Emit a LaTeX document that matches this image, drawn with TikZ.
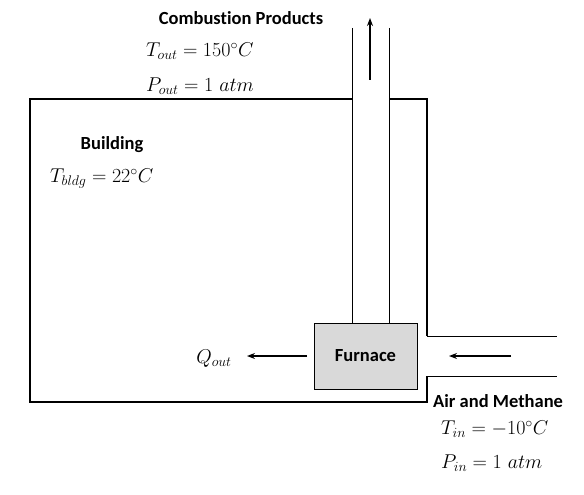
\RequirePackage{fix-cm}
\documentclass[tikz,border=0pt]{standalone}
\usepackage{fontspec}
\setsansfont{Carlito}[Ligatures=NoCommon]
\usetikzlibrary{arrows.meta}
\begin{document}
\begin{tikzpicture}[x=1pt,y=-1pt,
  wall/.style={line width=2.8pt},
  pipe/.style={line width=1pt},
  arr/.style={line width=1.3pt,-{Stealth[length=8pt,width=6pt]}},
  lbl/.style={font=\sffamily\bfseries\fontsize{18.5}{21}\selectfont, inner sep=0},
  eq/.style={font=\fontsize{20}{24}\selectfont, inner sep=0, anchor=west},
  furnacebox/.style={draw, line width=1pt, fill=black!15, minimum width=103pt, minimum height=66pt, inner sep=0, font=\sffamily\bfseries\fontsize{18.5}{21}\selectfont}]
\useasboundingbox (0,0) rectangle (584,495);
% building walls
\draw[wall] (352,99) -- (30,99) -- (30,402) -- (427,402) -- (427,376);
\draw[wall] (427,336) -- (427,99) -- (389,99);
% furnace
\node[furnacebox] (furnace) at (365.5,356) {Furnace};
% chimney
\coordinate (chL) at (352,28);
\coordinate (chR) at (389,28);
\draw[pipe] (chL) -- (chL |- furnace.north);
\draw[pipe] (chR) -- (chR |- furnace.north);
% intake duct
\coordinate (dT) at (557,336);
\coordinate (dB) at (557,376);
\draw[pipe] (427,336) -- (dT);
\draw[pipe] (427,376) -- (dB);
% arrows
\coordinate (upA) at (370,80);
\coordinate (upB) at (370,18);
\draw[arr] (upA) -- (upB);
\coordinate (inA) at (511,356);
\coordinate (inB) at (449,356);
\draw[arr] (inA) -- (inB);
\node[eq, anchor=center] (q) at (214,359) {$Q_{out}$};
\coordinate (qA) at (307,356);
\coordinate (qB) at (247,356);
\draw[arr] (qA) -- (qB);
% labels
\node[lbl] (cp) at (241,18) {Combustion Products};
\node[eq] (tout) at (146,51) {$T_{out} = 150^{\circ}C$};
\node[eq] (pout) at (146,86) {$P_{out} = 1\ atm$};
\node[lbl] (bldg) at (112,145) {Building};
\node[eq] (tb) at (50,179) {$T_{bldg} = 22^{\circ}C$};
\node[lbl, anchor=west] (am) at (433,401) {Air and Methane};
\node[eq] (tin) at (441,429) {$T_{in} = -10^{\circ}C$};
\node[eq] (pin) at (441,463) {$P_{in} = 1\ atm$};
\end{tikzpicture}
\end{document}
